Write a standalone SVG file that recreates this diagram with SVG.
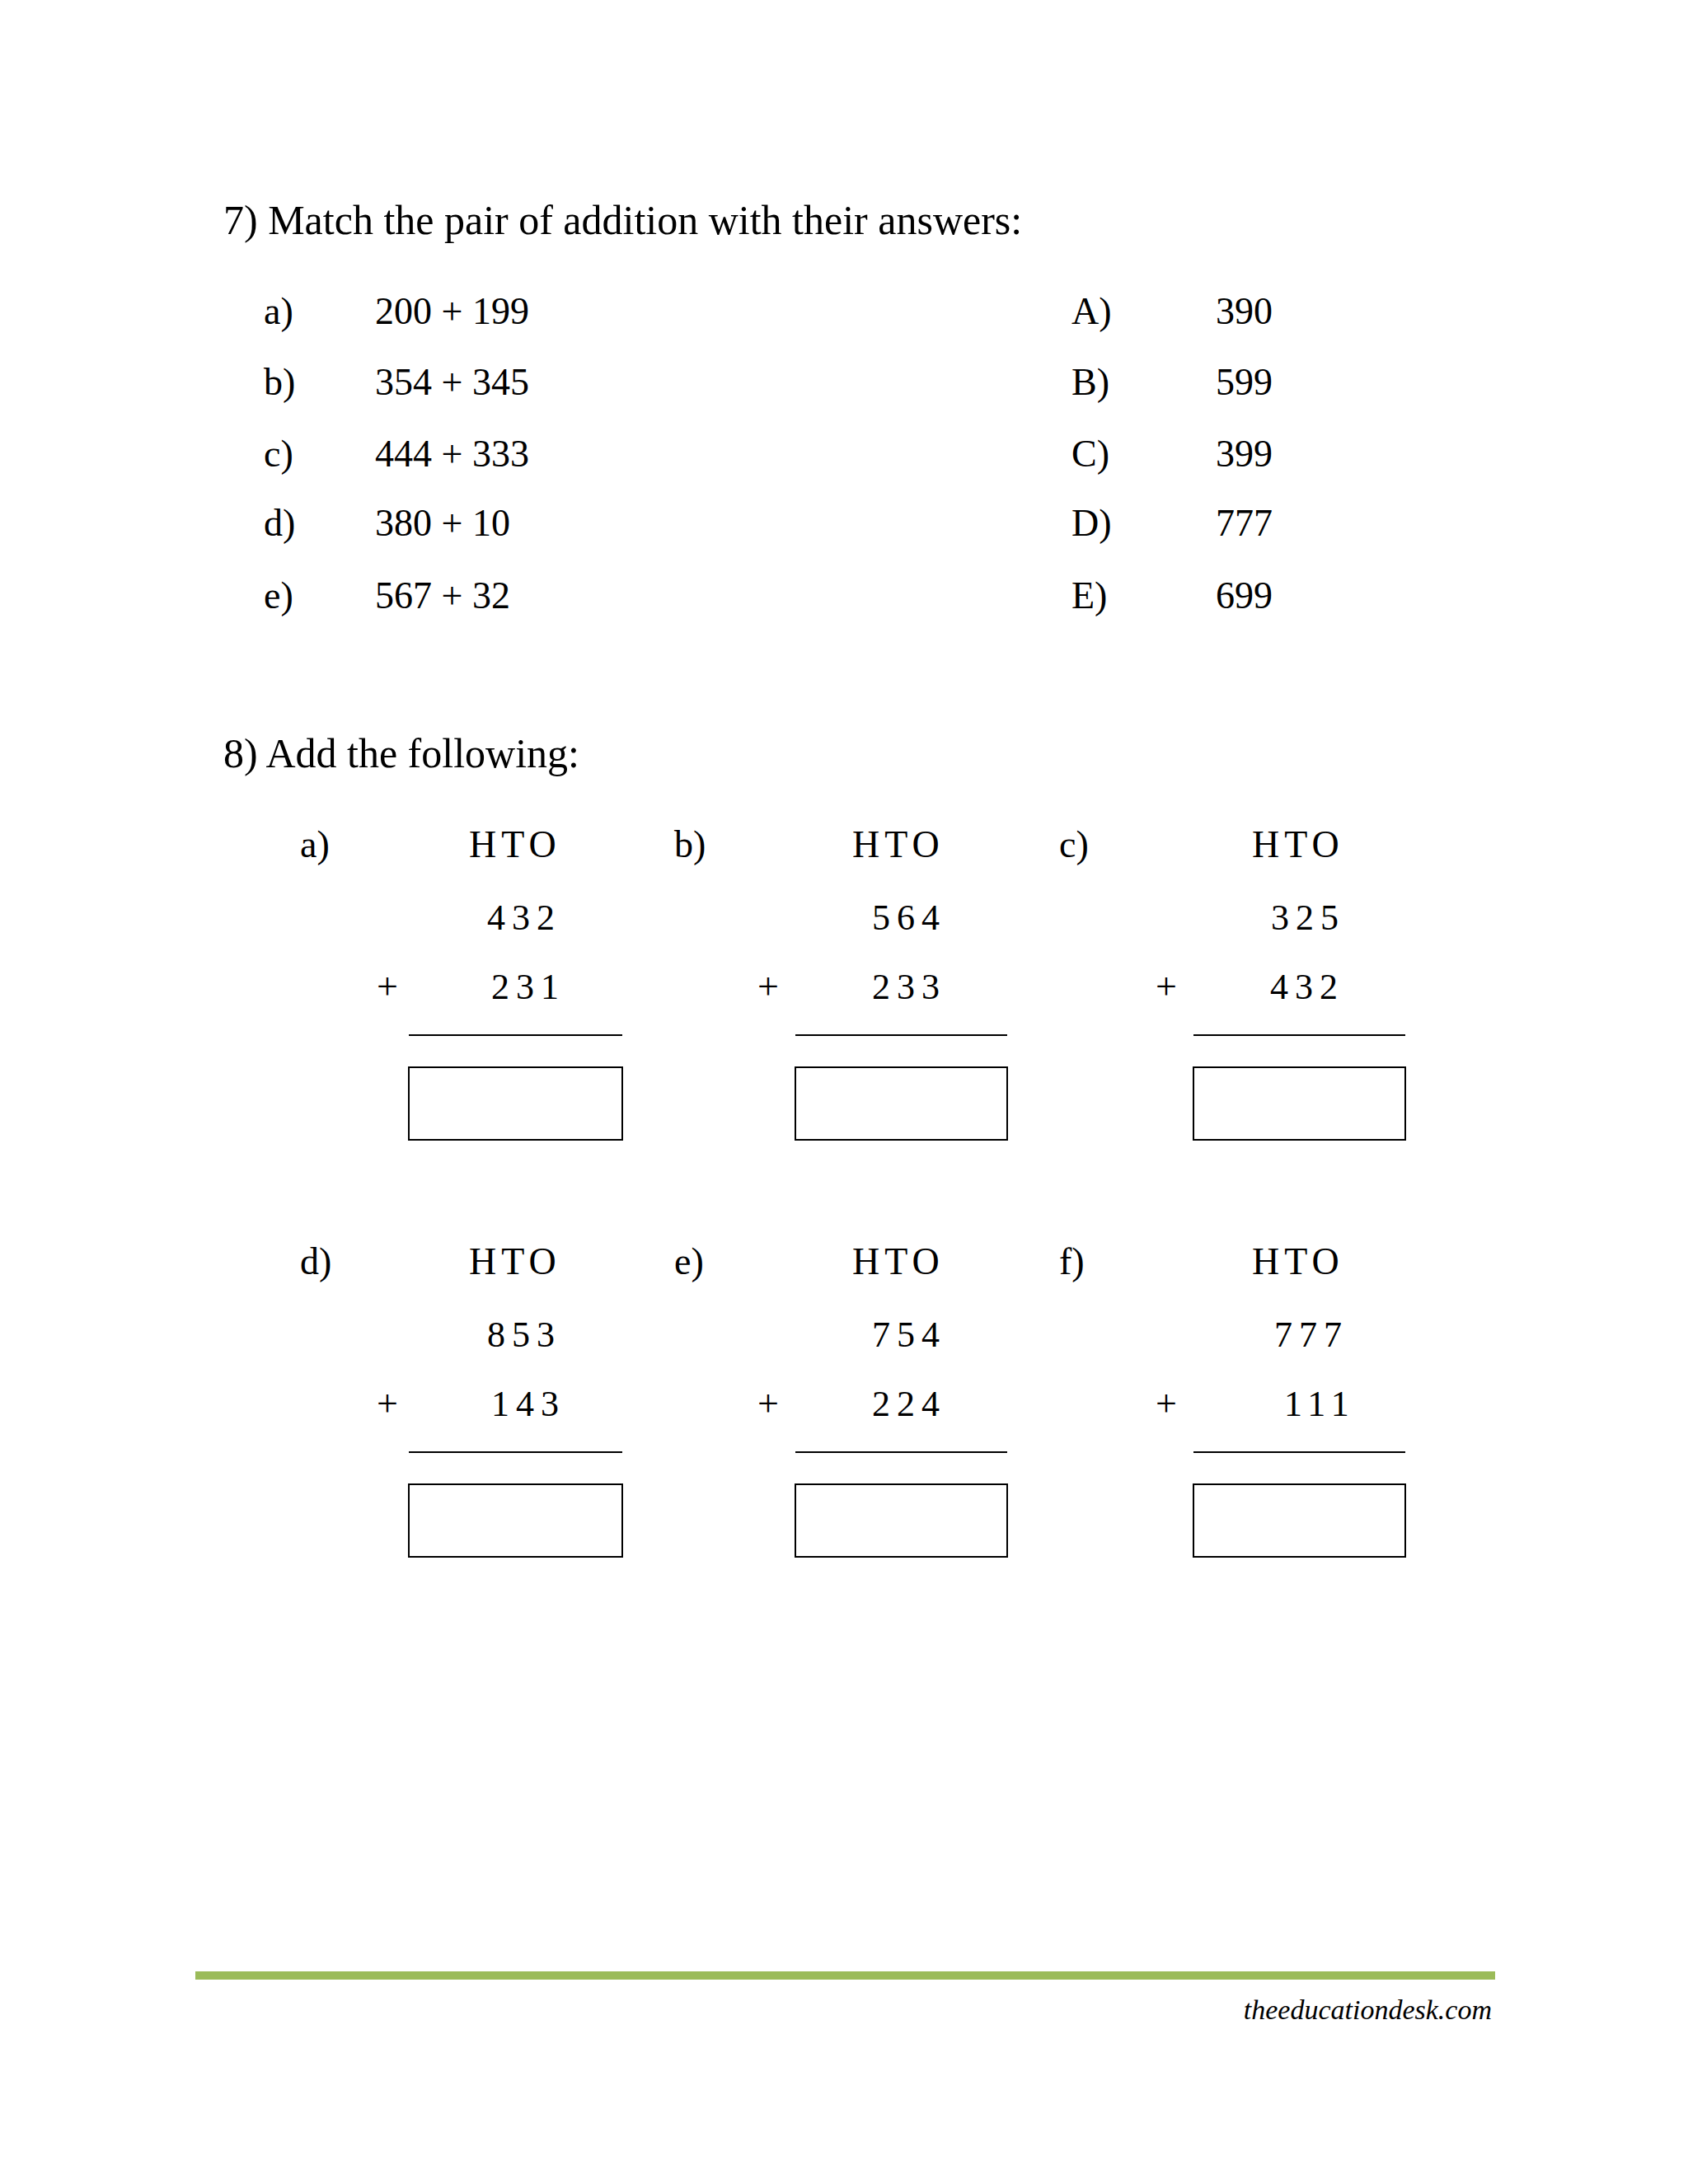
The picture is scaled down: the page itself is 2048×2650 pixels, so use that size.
<svg xmlns="http://www.w3.org/2000/svg" width="2048" height="2650" viewBox="0 0 2048 2650">
<style>
text{font-family:"Liberation Serif","DejaVu Serif",serif;fill:#000}
.h{font-size:50px}
.r{font-size:46px}
.g{font-size:46px;letter-spacing:6px}
.n{font-size:44px;letter-spacing:8px}
.box{fill:#fff;stroke:#000;stroke-width:2}
.ln{stroke:#000;stroke-width:2}
</style>
<rect width="2048" height="2650" fill="#fff"/>
<g id="q7">
<text class="h" x="271" y="284">7) Match the pair of addition with their answers:</text>
<text class="r" x="320" y="393">a)</text><text class="r" x="455" y="393">200 + 199</text>
<text class="r" x="320" y="479">b)</text><text class="r" x="455" y="479">354 + 345</text>
<text class="r" x="320" y="566">c)</text><text class="r" x="455" y="566">444 + 333</text>
<text class="r" x="320" y="650">d)</text><text class="r" x="455" y="650">380 + 10</text>
<text class="r" x="320" y="738">e)</text><text class="r" x="455" y="738">567 + 32</text>
<text class="r" x="1300" y="393">A)</text><text class="r" x="1475" y="393">390</text>
<text class="r" x="1300" y="479">B)</text><text class="r" x="1475" y="479">599</text>
<text class="r" x="1300" y="566">C)</text><text class="r" x="1475" y="566">399</text>
<text class="r" x="1300" y="650">D)</text><text class="r" x="1475" y="650">777</text>
<text class="r" x="1300" y="738">E)</text><text class="r" x="1475" y="738">699</text>
</g>
<g id="q8">
<text class="h" x="271" y="931">8) Add the following:</text>
</g>
<g id="pa">
<text class="r" x="364" y="1040">a)</text><text class="g" x="569" y="1040">HTO</text>
<text class="n" x="591" y="1128">432</text>
<text class="r" x="457" y="1212">+</text><text class="n" x="596" y="1212">231</text>
<line class="ln" x1="496" y1="1256" x2="755" y2="1256"/><rect class="box" x="496" y="1295" width="259" height="88"/>
</g>
<g id="pb">
<text class="r" x="818" y="1040">b)</text><text class="g" x="1034" y="1040">HTO</text>
<text class="n" x="1058" y="1128">564</text>
<text class="r" x="919" y="1212">+</text><text class="n" x="1058" y="1212">233</text>
<line class="ln" x1="965" y1="1256" x2="1222" y2="1256"/><rect class="box" x="965" y="1295" width="257" height="88"/>
</g>
<g id="pc">
<text class="r" x="1285" y="1040">c)</text><text class="g" x="1519" y="1040">HTO</text>
<text class="n" x="1542" y="1128">325</text>
<text class="r" x="1402" y="1212">+</text><text class="n" x="1541" y="1212">432</text>
<line class="ln" x1="1448" y1="1256" x2="1705" y2="1256"/><rect class="box" x="1448" y="1295" width="257" height="88"/>
</g>
<g id="pd">
<text class="r" x="364" y="1546">d)</text><text class="g" x="569" y="1546">HTO</text>
<text class="n" x="591" y="1634">853</text>
<text class="r" x="457" y="1718">+</text><text class="n" x="596" y="1718">143</text>
<line class="ln" x1="496" y1="1762" x2="755" y2="1762"/><rect class="box" x="496" y="1801" width="259" height="88"/>
</g>
<g id="pe">
<text class="r" x="818" y="1546">e)</text><text class="g" x="1034" y="1546">HTO</text>
<text class="n" x="1058" y="1634">754</text>
<text class="r" x="919" y="1718">+</text><text class="n" x="1058" y="1718">224</text>
<line class="ln" x1="965" y1="1762" x2="1222" y2="1762"/><rect class="box" x="965" y="1801" width="257" height="88"/>
</g>
<g id="pf">
<text class="r" x="1285" y="1546">f)</text><text class="g" x="1519" y="1546">HTO</text>
<text class="n" x="1546" y="1634">777</text>
<text class="r" x="1402" y="1718">+</text><text class="n" x="1558" y="1718">111</text>
<line class="ln" x1="1448" y1="1762" x2="1705" y2="1762"/><rect class="box" x="1448" y="1801" width="257" height="88"/>
</g>
<g id="footer">
<rect x="237" y="2392" width="1577" height="10" fill="#9bbb59"/>
<text x="1810" y="2450" font-size="34" font-style="italic" text-anchor="end">theeducationdesk.com</text>
</g>
</svg>
